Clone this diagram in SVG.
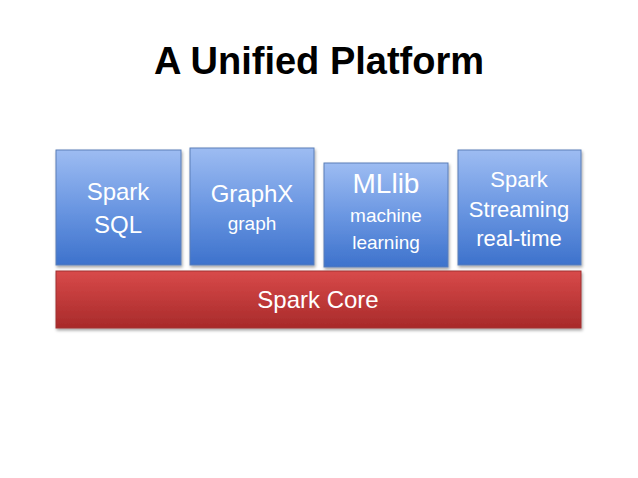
<svg xmlns="http://www.w3.org/2000/svg" width="638" height="478" viewBox="0 0 638 478">
<style>
.b{stroke:#5a7fb8;stroke-width:1}
.t{font-family:"Liberation Sans",Arial,sans-serif;fill:#fff;text-anchor:middle}
</style>
<defs>
<linearGradient id="bl" x1="0" y1="0" x2="0" y2="1"><stop offset="0" stop-color="#9dbcf2"/><stop offset="0.5" stop-color="#6b97e2"/><stop offset="1" stop-color="#3d72cc"/></linearGradient>
<linearGradient id="rd" x1="0" y1="0" x2="0" y2="1"><stop offset="0" stop-color="#d84a4a"/><stop offset="1" stop-color="#a82a2a"/></linearGradient>
<filter id="sh"><feDropShadow dx="1" dy="2" stdDeviation="1.5" flood-opacity="0.35"/></filter>
</defs>
<rect width="638" height="478" fill="#fff"/>
<text x="319" y="74" font-family="Liberation Sans,Arial,sans-serif" font-weight="bold" font-size="38" text-anchor="middle" fill="#000">A Unified Platform</text>
<g id="sql"><rect class="b" x="56" y="150" width="125" height="115" fill="url(#bl)" filter="url(#sh)"/><text class="t" x="118" y="200" font-size="24">Spark</text><text class="t" x="118" y="233" font-size="24">SQL</text></g>
<g id="graphx"><rect class="b" x="190" y="148" width="124" height="117" fill="url(#bl)" filter="url(#sh)"/><text class="t" x="252" y="202" font-size="24">GraphX</text><text class="t" x="252" y="230" font-size="19">graph</text></g>
<g id="mllib"><rect class="b" x="324" y="163" width="124" height="104" fill="url(#bl)" filter="url(#sh)"/><text class="t" x="386" y="193" font-size="28">MLlib</text><text class="t" x="386" y="222" font-size="19">machine</text><text class="t" x="386" y="249" font-size="19">learning</text></g>
<g id="streaming"><rect class="b" x="458" y="150" width="123" height="115" fill="url(#bl)" filter="url(#sh)"/><text class="t" x="519" y="187" font-size="22">Spark</text><text class="t" x="519" y="217" font-size="22">Streaming</text><text class="t" x="519" y="246" font-size="22">real-time</text></g>
<g id="core"><rect x="56" y="271" width="525" height="57" fill="url(#rd)" stroke="#a03030" filter="url(#sh)"/><text class="t" x="318" y="308" font-size="24">Spark Core</text></g>
<g id="connectors"/>
</svg>
